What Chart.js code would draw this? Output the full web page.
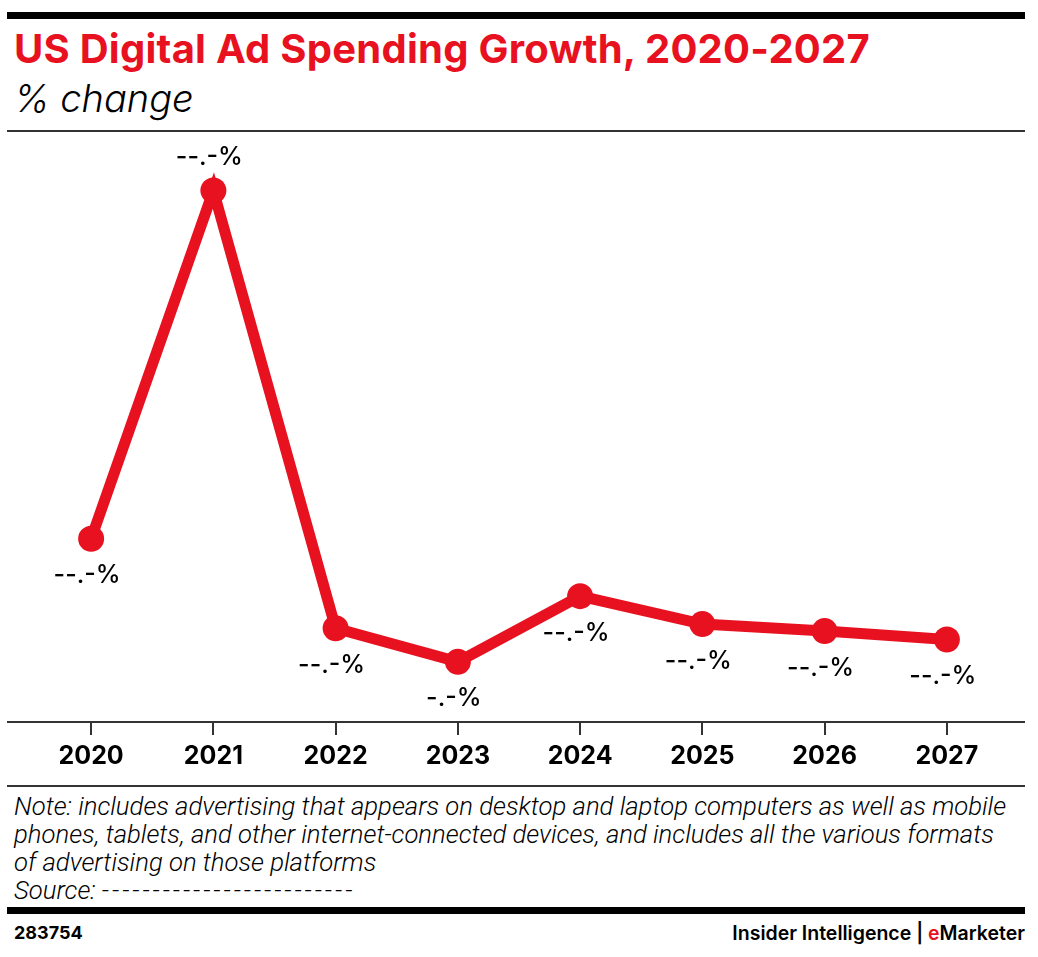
<!DOCTYPE html>
<html>
<head>
<meta charset="utf-8">
<script src="https://cdn.jsdelivr.net/npm/chart.js@4.4.0/dist/chart.umd.min.js"></script>
<style>
  html, body { margin: 0; padding: 0; background: #fff; }
  body { width: 1038px; height: 957px; position: relative; overflow: hidden; font-family: Inter, Roboto, sans-serif; }
  .bar { position: absolute; left: 7px; width: 1018px; background: #000; }
  .rule { position: absolute; left: 7px; width: 1018px; height: 2px; background: #333; }
  #title { position: absolute; left: 14px; top: 24px; font-size: 40px; font-weight: 700; color: #e8111f; letter-spacing: 0.25px; white-space: nowrap; }
  #subtitle { position: absolute; left: 14px; top: 75px; font-size: 38px; font-style: italic; font-weight: 300; color: #000; white-space: nowrap; }
  #chartBox { position: absolute; left: 0; top: 137px; width: 1038px; height: 640px; }
  #note { position: absolute; left: 14px; top: 792px; font-family: Roboto, sans-serif; font-size: 25.7px; line-height: 28px; font-style: italic; font-weight: 300; color: #000; white-space: nowrap; }
  #note .dash { letter-spacing: 3px; }
  #foot-id { position: absolute; left: 14px; top: 922px; font-size: 18px; font-weight: 700; }
  #foot-brand { position: absolute; right: 13px; top: 921px; font-size: 19.5px; font-weight: 600; }
  #foot-brand span { color: #e8111f; }
</style>
</head>
<body>
<div class="bar" style="top:12px;height:7px"></div>
<div id="title">US Digital Ad Spending Growth, 2020-2027</div>
<div id="subtitle">% change</div>
<div class="rule" style="top:130px"></div>
<div id="chartBox"><canvas id="chart"></canvas></div>
<div class="rule" style="top:785px"></div>
<div id="note">Note: includes advertising that appears on desktop and laptop computers as well as mobile<br>phones, tablets, and other internet-connected devices, and includes all the various formats<br>of advertising on those platforms<br>Source: <span class="dash">-------------------------</span></div>
<div class="bar" style="top:907px;height:7px"></div>
<div id="foot-id">283754</div>
<div id="foot-brand">Insider Intelligence | <span>e</span>Marketer</div>

<script>
// данные
const years = ['2020', '2021', '2022', '2023', '2024', '2025', '2026', '2027'];
const growth = [13.1, 38.0, 6.7, 4.3, 9.0, 7.0, 6.5, 5.9];
const valueLabels = ['--.-%', '--.-%', '--.-%', '-.-%', '--.-%', '--.-%', '--.-%', '--.-%'];
const labelAbove = [false, true, false, false, false, false, false, false];

const red = '#e8111f';

// подписи значений над/под точками
const pointLabels = {
    id: 'pointLabels',
    afterDatasetsDraw(chart) {
        const ctx = chart.ctx;
        const meta = chart.getDatasetMeta(0);
        ctx.save();
        ctx.font = '500 25px Inter, Roboto, sans-serif';
        ctx.fillStyle = '#000';
        ctx.textAlign = 'center';
        ctx.textBaseline = 'middle';
        meta.data.forEach(function(pt, i) {
            const dy = labelAbove[i] ? -33 : 37;
            ctx.fillText(valueLabels[i], pt.x - 4, pt.y + dy);
        });
        ctx.restore();
    }
};

// длинная линия оси X
const axisLine = {
    id: 'axisLine',
    beforeDatasetsDraw(chart) {
        const ctx = chart.ctx;
        const y = chart.chartArea.bottom;
        ctx.save();
        ctx.strokeStyle = '#333';
        ctx.lineWidth = 2;
        ctx.beginPath();
        ctx.moveTo(7, y);
        ctx.lineTo(1025, y);
        ctx.stroke();
        ctx.restore();
    }
};

const ctx = document.getElementById('chart').getContext('2d');
const chart = new Chart(ctx, {
    type: 'line',
    data: {
        labels: years,
        datasets: [{
            data: growth,
            borderColor: red,
            backgroundColor: red,
            borderWidth: 11,
            pointRadius: 13,
            pointBackgroundColor: red,
            pointBorderWidth: 0,
            tension: 0
        }]
    },
    options: {
        responsive: true,
        maintainAspectRatio: false,
        animation: false,
        layout: { padding: { left: 30, right: 30, top: 0, bottom: 0 } },
        plugins: {
            legend: { display: false },
            tooltip: { enabled: false }
        },
        scales: {
            x: {
                offset: true,
                grid: {
                    offset: false,
                    drawOnChartArea: false,
                    drawTicks: true,
                    tickLength: 13,
                    color: '#333',
                    lineWidth: 2
                },
                border: { display: false },
                ticks: {
                    color: '#000',
                    padding: 6,
                    font: { family: 'Inter', size: 25, weight: 'bold' }
                }
            },
            y: {
                display: false,
                min: 0,
                max: 40.9
            }
        }
    },
    plugins: [axisLine, pointLabels]
});
</script>
</body>
</html>
